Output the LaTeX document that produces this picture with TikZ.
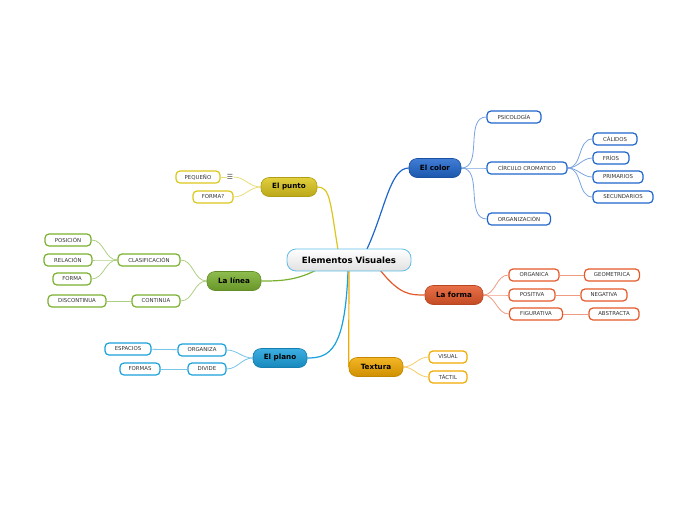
\documentclass[tikz,border=0pt]{standalone}
\usepackage{fontspec}
\setmainfont{DejaVu Sans}
\usetikzlibrary{backgrounds}
\definecolor{cblue}{HTML}{1F66CC}
\definecolor{cred}{HTML}{E5582A}
\definecolor{corange}{HTML}{F2A900}
\definecolor{csky}{HTML}{1AA0DC}
\definecolor{cgreen}{HTML}{7AB030}
\definecolor{cyel}{HTML}{DCC61C}
\begin{document}
\begin{tikzpicture}[x=1pt,y=-1pt,
  leaf/.style={draw=#1,line width=1.2pt,rounded corners=4pt,fill=white,minimum height=12pt,inner sep=1pt,font=\fontsize{5.4}{6}\selectfont,text=black!80},
  main/.style={draw=#1!80!black,line width=0.6pt,rounded corners=8pt,top color=#1!85,bottom color=#1!85!black,minimum height=19pt,inner sep=2pt,font=\fontsize{7.2}{8}\selectfont\bfseries,text=black},
  lk/.style={draw=#1!60,line width=0.8pt},
  mk/.style={draw=#1,line width=1.2pt}]
\useasboundingbox (0,0) rectangle (697,520);
\node[draw=csky!70,line width=0.8pt,rounded corners=9pt,top color=white,bottom color=black!12,minimum width=124pt,minimum height=22pt,font=\fontsize{8.6}{9}\selectfont\bfseries] (root) at (349,260) {Elementos Visuales};
% El color
\node[main=cblue,minimum width=52pt] (color) at (435,168) {El color};
\node[leaf=cblue,minimum width=54pt] (psi) at (514,117) {PSICOLOGÍA};
\node[leaf=cblue,minimum width=80pt] (cir) at (527,168) {CÍRCULO CROMATICO};
\node[leaf=cblue,minimum width=63pt] (org) at (519,219) {ORGANIZACIÓN};
\node[leaf=cblue,minimum width=44pt] (cal) at (615,139) {CÁLIDOS};
\node[leaf=cblue,minimum width=36pt] (fri) at (611,158) {FRÍOS};
\node[leaf=cblue,minimum width=50pt] (pri) at (618,177) {PRIMARIOS};
\node[leaf=cblue,minimum width=60pt] (sec) at (623,197) {SECUNDARIOS};
% La forma
\node[main=cred,minimum width=58pt] (forma) at (454,295) {La forma};
\node[leaf=cred,minimum width=50pt] (orgn) at (534,275) {ORGANICA};
\node[leaf=cred,minimum width=55pt] (geo) at (612,275) {GEOMETRICA};
\node[leaf=cred,minimum width=46pt] (pos) at (532,295) {POSITIVA};
\node[leaf=cred,minimum width=46pt] (neg) at (604,295) {NEGATIVA};
\node[leaf=cred,minimum width=53pt] (fig) at (536,314) {FIGURATIVA};
\node[leaf=cred,minimum width=50pt] (abs) at (614,314) {ABSTRACTA};
% Textura
\node[main=corange,minimum width=54pt] (tex) at (376,367) {Textura};
\node[leaf=corange,minimum width=38pt] (vis) at (448,357) {VISUAL};
\node[leaf=corange,minimum width=38pt] (tac) at (448,377) {TÁCTIL};
% El plano
\node[main=csky,minimum width=54pt] (plano) at (280,358) {El plano};
\node[leaf=csky,minimum width=48pt] (orgz) at (202,350) {ORGANIZA};
\node[leaf=csky,minimum width=38pt] (div) at (207,369) {DIVIDE};
\node[leaf=csky,minimum width=46pt] (esp) at (128,349) {ESPACIOS};
\node[leaf=csky,minimum width=40pt] (fms) at (140,369) {FORMAS};
% La linea
\node[main=cgreen,minimum width=54pt] (linea) at (234,281) {La línea};
\node[leaf=cgreen,minimum width=62pt] (cla) at (149,260) {CLASIFICACIÓN};
\node[leaf=cgreen,minimum width=48pt] (con) at (156,301) {CONTINUA};
\node[leaf=cgreen,minimum width=46pt] (psc) at (68,240) {POSICIÓN};
\node[leaf=cgreen,minimum width=48pt] (rel) at (68,260) {RELACIÓN};
\node[leaf=cgreen,minimum width=38pt] (frm) at (72,279) {FORMA};
\node[leaf=cgreen,minimum width=58pt] (dis) at (77,301) {DISCONTINUA};
% El punto
\node[main=cyel,minimum width=56pt] (punto) at (289,187) {El punto};
\node[leaf=cyel,minimum width=44pt] (peq) at (198,177) {PEQUEÑO};
\node[leaf=cyel,minimum width=40pt] (fq) at (213,197) {FORMA?};
\node[font=\fontsize{7}{8}\selectfont,text=black!70,inner sep=0pt] (ic) at (230,177) {☰};
\begin{pgfonlayer}{background}
\coordinate (rc) at (367,249);
\draw[mk=cblue] (rc) .. controls (385,210) and (390,168) .. (color.west);
\draw[mk=cyel] (338,250) .. controls (330,200) and (330,187) .. (punto.east);
\draw[mk=cgreen] (325,265) .. controls (300,281) and (280,281) .. (linea.east);
\draw[mk=csky] (348,271) .. controls (345,350) and (330,358) .. (plano.east);
\draw[mk=corange] (349,271) -- (tex.west);
\draw[mk=cred] (380,270) .. controls (400,295) and (410,295) .. (forma.west);
\foreach \c in {psi,cir,org}{\draw[lk=cblue] (color.east) to[out=0,in=180] (\c.west);}
\foreach \c in {cal,fri,pri,sec}{\draw[lk=cblue] (cir.east) to[out=0,in=180] (\c.west);}
\foreach \a/\b in {orgn/geo,pos/neg,fig/abs}{\draw[lk=cred] (forma.east) to[out=0,in=180] (\a.west); \draw[lk=cred] (\a) -- (\b);}
\foreach \c in {vis,tac}{\draw[lk=corange] (tex.east) to[out=0,in=180] (\c.west);}
\foreach \a/\b in {orgz/esp,div/fms}{\draw[lk=csky] (plano.west) to[out=180,in=0] (\a.east); \draw[lk=csky] (\a) -- (\b);}
\foreach \c in {cla,con}{\draw[lk=cgreen] (linea.west) to[out=180,in=0] (\c.east);}
\foreach \c in {psc,rel,frm}{\draw[lk=cgreen] (cla.west) to[out=180,in=0] (\c.east);}
\draw[lk=cgreen] (con) -- (dis);
\draw[lk=cyel] (punto.west) to[out=180,in=0] (ic.east);
\draw[lk=cyel] (ic.west) -- (peq.east);
\draw[lk=cyel] (punto.west) to[out=180,in=0] (fq.east);
\end{pgfonlayer}
\end{tikzpicture}
\end{document}
